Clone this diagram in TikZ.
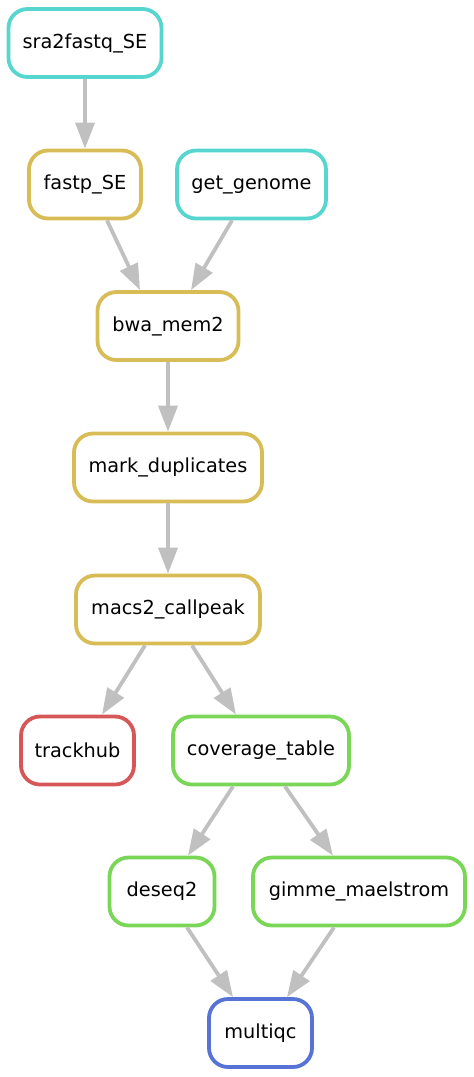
\documentclass[tikz,border=0pt]{standalone}
\usepackage{fontspec}
\setmainfont{DejaVu Sans}
\usetikzlibrary{arrows.meta,calc}
\definecolor{ccyan}{HTML}{57D6D0}
\definecolor{cyell}{HTML}{D8BD57}
\definecolor{cred}{HTML}{D65757}
\definecolor{cgreen}{HTML}{7AD657}
\definecolor{cblue}{HTML}{5773D6}
\definecolor{cedge}{HTML}{C0C0C0}
\begin{document}
\begin{tikzpicture}[x=1pt,y=-1pt,
  rule/.style={draw=#1,fill=white,line width=3.8pt,rounded corners=19pt,
    minimum height=68pt,inner sep=0pt,font=\fontsize{19.3}{23}\selectfont},
  edge/.style={draw=cedge,line width=3.8pt,-{Triangle[length=26pt,width=19pt]}}]
\useasboundingbox (0,0) rectangle (474,1077);
\node[rule=ccyan,minimum width=153pt] (sra) at (85,43) {sra2fastq\_SE};
\node[rule=cyell,minimum width=112pt] (fastp) at (85,184.5) {fastp\_SE};
\node[rule=ccyan,minimum width=149pt] (genome) at (251.5,184.5) {get\_genome};
\node[rule=cyell,minimum width=141pt] (bwa) at (168,326) {bwa\_mem2};
\node[rule=cyell,minimum width=188pt] (mark) at (168,467.5) {mark\_duplicates};
\node[rule=cyell,minimum width=184pt] (macs) at (168,609.5) {macs2\_callpeak};
\node[rule=cred,minimum width=113pt] (track) at (77.5,750.5) {trackhub};
\node[rule=cgreen,minimum width=176pt] (cov) at (261,750.5) {coverage\_table};
\node[rule=cgreen,minimum width=105pt] (deseq) at (162,891.5) {deseq2};
\node[rule=cgreen,minimum width=212pt] (gimme) at (359,891.5) {gimme\_maelstrom};
\node[rule=cblue,minimum width=103pt] (mqc) at (260.5,1033) {multiqc};
\draw[edge] (sra.south) -- (fastp.north);
\draw[edge] ([xshift=22pt]fastp.south) -- ([xshift=-28pt]bwa.north);
\draw[edge] ([xshift=-19.5pt]genome.south) -- ([xshift=23pt]bwa.north);
\draw[edge] (bwa.south) -- (mark.north);
\draw[edge] (mark.south) -- (macs.north);
\draw[edge] ([xshift=-23pt]macs.south) -- ([xshift=24.5pt]track.north);
\draw[edge] ([xshift=24pt]macs.south) -- ([xshift=-25pt]cov.north);
\draw[edge] ([xshift=-28pt]cov.south) -- ([xshift=26pt]deseq.north);
\draw[edge] ([xshift=24pt]cov.south) -- ([xshift=-26pt]gimme.north);
\draw[edge] ([xshift=25pt]deseq.south) -- ([xshift=-27.5pt]mqc.north);
\draw[edge] ([xshift=-25pt]gimme.south) -- ([xshift=26.5pt]mqc.north);
\end{tikzpicture}
\end{document}
